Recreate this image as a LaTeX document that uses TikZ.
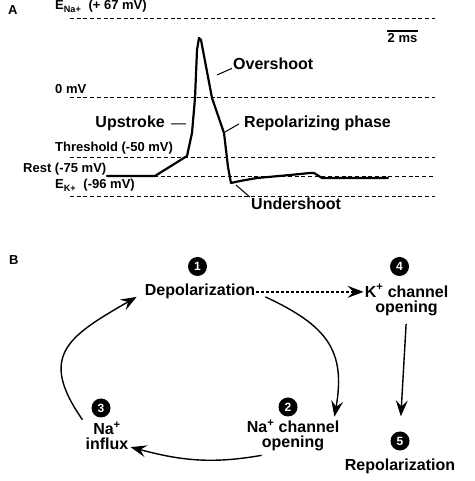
\documentclass[tikz,border=0pt]{standalone}
\usepackage{fontspec}
\setmainfont{Liberation Sans}
\usetikzlibrary{arrows.meta,positioning}

\begin{document}
\begin{tikzpicture}[x=1pt, y=1pt,
    lbl/.style={font=\fontsize{16}{15}\selectfont\bfseries, inner sep=1pt, align=center},
    axis/.style={font=\fontsize{13}{13}\selectfont\bfseries, inner sep=0pt},
    level/.style={line width=0.9pt, dash pattern=on 4pt off 2.7pt},
    num/.style={circle, fill=black, text=white, inner sep=0pt, minimum size=19pt,
      font=\fontsize{12}{12}\selectfont\bfseries},
    cyc/.style={-{Stealth[length=16pt,width=12pt,inset=6pt]}, line width=1.4pt},
    lead/.style={line width=1pt}]
  \useasboundingbox (0,0) rectangle (474,481);

  % panel A: action potential
  \node[axis, anchor=base west] (pa) at (8,466) {A};
  \node[axis, anchor=base west] (ena) at (55,471) {E\textsubscript{Na+}\ \ (+ 67 mV)};
  \node[axis, anchor=base west] (zero) at (55,387) {0 mV};
  \node[axis, anchor=base west] (thr) at (55,329) {Threshold (-50 mV)};
  \node[axis, anchor=base west] (rest) at (23,308) {Rest (-75 mV)};
  \node[axis, anchor=base west] (ek) at (55,292) {E\textsubscript{K+}\ \ (-96 mV)};
  \foreach \yy in {462.5,383.5,324,285}
    \draw[level] (70,\yy) -- (435,\yy);
  \draw[level] (107,305) -- (435,305);

  % scale bar
  \coordinate (sbl) at (387,450);
  \coordinate (sbr) at (418,450);
  \draw[line width=1.2pt] (sbl) -- (sbr);
  \node[axis, anchor=base] (sb) at (402.5,438) {2 ms};

  % trace
  \draw[line width=2.2pt, line join=round, line cap=round]
    (107,305) -- (155,305) -- (187,325) -- (192,348) -- (195,383) -- (197,431)
    -- (199,443) -- (201,441) -- (212,383) -- (224,348) -- (228,314) -- (231,298)
    -- (240,300) -- (257,303) -- (290,306) -- (310,308) -- (314,308) -- (322,303)
    -- (388,303);

  \node[lbl, anchor=base west] (os) at (232,411) {Overshoot};
  \node[lbl, anchor=base east] (up) at (166,353) {Upstroke};
  \node[lbl, anchor=base west] (rp) at (243,353) {Repolarizing phase};
  \node[lbl, anchor=base west] (us) at (250,271) {Undershoot};
  \coordinate (osx) at (217,406);
  \coordinate (upx) at (186,357);
  \coordinate (rpx) at (225,349);
  \coordinate (usx) at (236,296);
  \draw[lead] (osx) -- ([yshift=3pt]os.south west);
  \draw[lead] ([xshift=5pt]up.east) -- (upx);
  \draw[lead] (rpx) -- ([xshift=-4pt]rp.west);
  \draw[lead] (usx) -- (us.north west);

  % panel B: cycle
  \node[axis, anchor=base west] (pb) at (9,216) {B};
  \node[num] (c1) at (197.5,214.5) {1};
  \node[num] (c4) at (399.5,214.5) {4};
  \node[num] (c2) at (288,74) {2};
  \node[num] (c3) at (101,73) {3};
  \node[num] (c5) at (400,40) {5};
  \node[lbl, below=7pt of c1, xshift=2.5pt] (dep) {Depolarization};
  \node[lbl, below=7pt of c4, xshift=7pt] (kopen) {K\textsuperscript{+} channel\\opening};
  \node[lbl, below=2pt of c2, xshift=5pt] (naopen) {Na\textsuperscript{+} channel\\opening};
  \node[lbl, below=3pt of c3, xshift=6pt] (influx) {Na\textsuperscript{+}\\influx};
  \node[lbl, below=7pt of c5] (repol) {Repolarization};

  \draw[cyc, dash pattern=on 3pt off 2pt] (dep.east) -- (dep.east -| kopen.west);
  \draw[cyc, shorten <=7pt, shorten >=15pt] (kopen.south) -- (c5.north);
  \draw[cyc] ([shift={(9pt,-5pt)}]dep.east) to[out=-25, in=80, looseness=1.25]
    ([shift={(-6pt,2pt)}]naopen.north east);
  \draw[cyc] ([shift={(16pt,-3pt)}]naopen.south west) to[out=190, in=-15]
    ([shift={(1pt,4pt)}]influx.south east);
  \draw[cyc] ([shift={(-2pt,1pt)}]influx.north west) to[out=125, in=210, looseness=1.5]
    ([shift={(-7pt,-5pt)}]dep.west);
\end{tikzpicture}
\end{document}
